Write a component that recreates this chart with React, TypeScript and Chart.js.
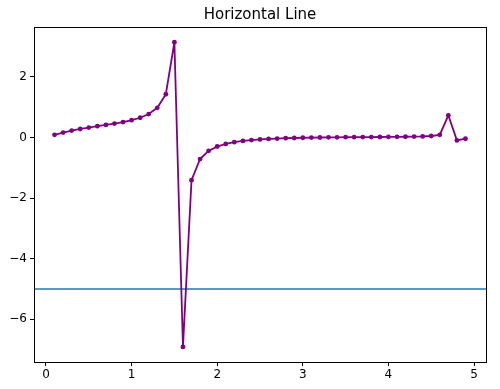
import React, { useEffect, useRef } from "react";
import { Chart, registerables } from "chart.js";

Chart.register(...registerables);

const titleText = "Horizontal Line";
const xValues = [
  0.1, 0.2, 0.3, 0.4, 0.5, 0.6, 0.7, 0.8, 0.9, 1.0,
  1.1, 1.2, 1.3, 1.4, 1.5, 1.6, 1.7, 1.8, 1.9, 2.0,
  2.1, 2.2, 2.3, 2.4, 2.5, 2.6, 2.7, 2.8, 2.9, 3.0,
  3.1, 3.2, 3.3, 3.4, 3.5, 3.6, 3.7, 3.8, 3.9, 4.0,
  4.1, 4.2, 4.3, 4.4, 4.5, 4.6, 4.7, 4.8, 4.9,
];
const yValues = [
  0.091, 0.166, 0.229, 0.283, 0.331, 0.375, 0.418, 0.463, 0.512, 0.573,
  0.654, 0.775, 0.982, 1.43, 3.147, -6.911, -1.406, -0.709, -0.438, -0.296,
  -0.209, -0.152, -0.112, -0.083, -0.061, -0.045, -0.032, -0.022, -0.014, -0.007,
  -0.002, 0.002, 0.006, 0.009, 0.011, 0.014, 0.015, 0.017, 0.019, 0.021,
  0.024, 0.027, 0.031, 0.038, 0.052, 0.089, 0.735, -0.094, -0.039,
];
const hLineY = -5;
const xMin = -0.14;
const xMax = 5.14;
const yMin = -7.41;
const yMax = 3.65;
const xTicks = [0, 1, 2, 3, 4, 5];
const yTicks = [-6, -4, -2, 0, 2];

export default function App() {
  const ref = useRef<HTMLCanvasElement>(null);
  useEffect(() => {
    document.body.style.margin = "0";
    const canvas = ref.current!;
    const framePlugin = {
      id: "frame",
      afterDraw(chart: any) {
        const { ctx, chartArea } = chart;
        ctx.save();
        ctx.strokeStyle = "#000";
        ctx.lineWidth = 1;
        ctx.strokeRect(
          Math.round(chartArea.left) + 0.5,
          Math.round(chartArea.top) + 0.5,
          Math.round(chartArea.right - chartArea.left),
          Math.round(chartArea.bottom - chartArea.top)
        );
        ctx.fillStyle = "#000";
        ctx.font = "15px 'DejaVu Sans'";
        ctx.textAlign = "center";
        ctx.textBaseline = "alphabetic";
        ctx.fillText(titleText, (chartArea.left + chartArea.right) / 2, 19);
        ctx.restore();
      },
    };
    const chart = new Chart(canvas, {
      type: "scatter",
      data: {
        datasets: [
          {
            data: xValues.map((x, i) => ({ x, y: yValues[i] })),
            showLine: true,
            borderColor: "#800080",
            backgroundColor: "#800080",
            borderWidth: 1.8,
            pointRadius: 2.4,
            pointBorderWidth: 0,
            order: 1,
          },
          {
            data: [
              { x: xMin, y: hLineY },
              { x: xMax, y: hLineY },
            ],
            showLine: true,
            borderColor: "#1f77b4",
            backgroundColor: "#1f77b4",
            borderWidth: 1.6,
            pointRadius: 0,
            order: 2,
          },
        ],
      },
      options: {
        animation: false,
        responsive: false,
        layout: { padding: { left: 0, right: 14, top: 27, bottom: 0 } },
        plugins: { legend: { display: false }, tooltip: { enabled: false } },
        scales: {
          x: {
            type: "linear",
            min: xMin,
            max: xMax,
            afterBuildTicks: (s: any) => {
              s.ticks = xTicks.map((v) => ({ value: v }));
            },
            afterFit: (s: any) => {
              s.height = 27;
            },
            grid: {
              drawOnChartArea: false,
              drawTicks: true,
              tickLength: 4,
              color: "#000",
            },
            border: { display: false },
            ticks: {
              color: "#000",
              font: { family: "'DejaVu Sans'", size: 12 },
              padding: 2,
              maxRotation: 0,
              callback: (v: any) => String(v),
            },
          },
          y: {
            type: "linear",
            min: yMin,
            max: yMax,
            afterBuildTicks: (s: any) => {
              s.ticks = yTicks.map((v) => ({ value: v }));
            },
            afterFit: (s: any) => {
              s.width = 34;
            },
            grid: {
              drawOnChartArea: false,
              drawTicks: true,
              tickLength: 4,
              color: "#000",
            },
            border: { display: false },
            ticks: {
              color: "#000",
              font: { family: "'DejaVu Sans'", size: 12 },
              padding: 3,
              callback: (v: any) => (v < 0 ? "\u2212" + Math.abs(v) : String(v)),
            },
          },
        },
      },
      plugins: [framePlugin],
    });
    return () => chart.destroy();
  }, []);
  return (
    <div style={{ width: 500, height: 389 }}>
      <canvas ref={ref} width={500} height={389} style={{ display: "block" }} />
    </div>
  );
}
